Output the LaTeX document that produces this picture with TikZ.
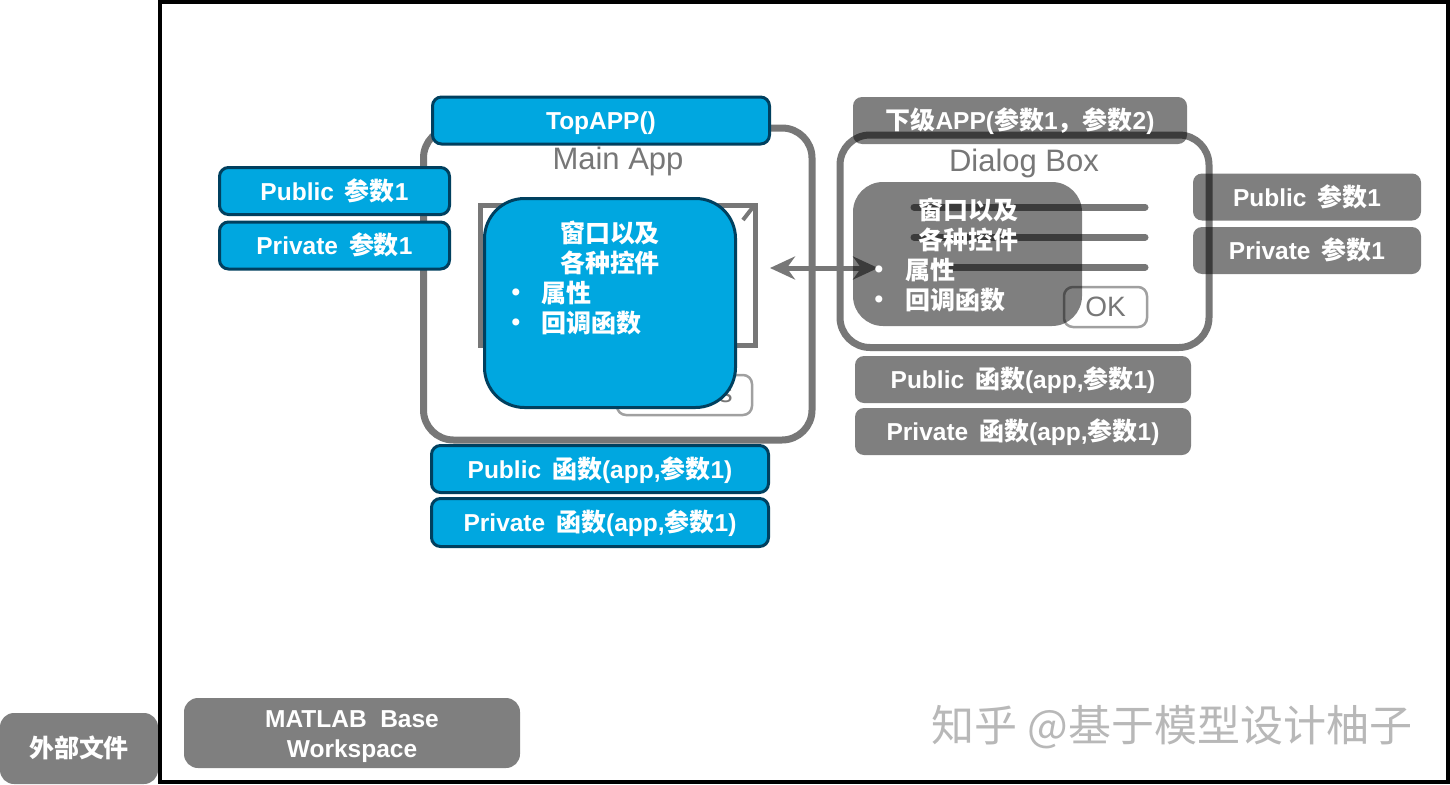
\documentclass[tikz,border=0pt]{standalone}
\usepackage{fontspec}
\setmainfont{Liberation Sans}
\newfontfamily\cjk[Scale=1.02]{Noto Sans CJK SC}
\newfontfamily\markfont{Noto Sans CJK SC}
\usetikzlibrary{arrows.meta}
\definecolor{appblue}{HTML}{00A7E0}
\definecolor{appedge}{HTML}{00405F}
\definecolor{sketch}{HTML}{777777}
\newcommand{\zh}[1]{{\cjk #1}}
\tikzset{
	x=1pt, y=-1pt,
	label24/.style={font=\fontsize{24.5}{30}\selectfont\bfseries, text=white, align=center},
	oneline/.style={text height=18pt, text depth=0pt},
	bluebox/.style={draw=appedge, line width=3pt, fill=appblue, rounded corners=9pt, inner sep=0pt, outer sep=0pt, label24},
	greybox/.style={fill=black, fill opacity=.5, text opacity=1, rounded corners=9pt, inner sep=0pt, outer sep=0pt, label24},
	frame/.style={draw=sketch, line width=7pt, rounded corners=30pt},
	rowline/.style={draw=sketch, line width=7pt, line cap=round},
	blurtext/.style={font=\fontsize{31}{36}\selectfont, text=sketch},
	btn/.style={draw=sketch!70, line width=2.5pt, rounded corners=9pt, inner sep=0pt, minimum height=40pt}
}
\begin{document}
\begin{tikzpicture}
	\useasboundingbox (0,0) rectangle (1450,784);
	\fill[white] (0,0) rectangle (1450,784);
	\draw[black, line width=4pt] (160,2) rectangle (1448,782);
	% sketches underneath
	\draw[frame] (423.5,128) rectangle (812,440);
	\draw[frame] (840,135) rectangle (1209,347.5);
	\node[blurtext] (mainname) at (618,161) {Main App};
	\node[blurtext] (dialogname) at (1024,163) {Dialog Box};
	\draw[sketch, line width=5pt] (480.5,205) rectangle (755.5,345);
	\draw[sketch, line width=4pt] (743,220) -- (753,207);
	\node[btn, minimum width=135pt, font=\fontsize{28}{30}\selectfont, text=sketch] (options) at (684.5,395) {Options};
	\node[btn, minimum width=83pt, font=\fontsize{28}{30}\selectfont, text=sketch] (okbtn) at (1105.5,307) {OK};
	\draw[rowline] (914,207) -- (1145,207);
	\draw[rowline] (914,237) -- (1145,237);
	\draw[rowline] (952,267) -- (1145,267);
	\coordinate (left) at (770,268);
	\coordinate (right) at (878,268);
	\draw[{Stealth[length=25pt,width=23pt]}-{Stealth[length=25pt,width=23pt]}, draw=sketch, line width=5pt] (left) -- (right);
	% main app
	\node[bluebox, oneline, minimum width=337pt, minimum height=47pt] (top) at (601,120.5) {TopAPP()};
	\node[bluebox, oneline, minimum width=230pt, minimum height=47pt] (pubvar) at (334.5,191) {Public\, \zh{参数}1};
	\node[bluebox, oneline, minimum width=230pt, minimum height=47pt] (privar) at (334.5,245.5) {Private\, \zh{参数}1};
	\node[bluebox, rounded corners=40pt, minimum width=251pt, minimum height=209pt] (window) at (610,303) {};
	\node[label24] (wintitle) at (610,248) {\zh{窗口以及}\\\zh{各种控件}};
	\node[label24] (b1) at (516,295) {\textbullet};
	\node[label24, anchor=west] (prop) at (538,293) {\zh{属性}};
	\node[label24] (b2) at (516,325) {\textbullet};
	\node[label24, anchor=west] (call) at (538,323) {\zh{回调函数}};
	\node[bluebox, oneline, minimum width=337pt, minimum height=47pt] (pubfun) at (600,469) {Public\, \zh{函数}(app,\zh{参数}1)};
	\node[bluebox, oneline, minimum width=337pt, minimum height=48pt] (prifun) at (600,522.5) {Private\, \zh{函数}(app,\zh{参数}1)};
	% dialog
	\node[greybox, oneline, minimum width=334pt, minimum height=47pt] (sub) at (1020,120.5) {\zh{下级}APP(\zh{参数}1\zh{，}\zh{参数}2)};
	\node[greybox, rounded corners=30pt, minimum width=229pt, minimum height=144pt] (subwindow) at (967.5,254) {};
	\node[label24] (subtitle) at (968,225) {\zh{窗口以及}\\\zh{各种控件}};
	\node[label24] (b3) at (879,272) {\textbullet};
	\node[label24, anchor=west] (subprop) at (902,270) {\zh{属性}};
	\node[label24] (b4) at (879,302) {\textbullet};
	\node[label24, anchor=west] (subcall) at (902,300) {\zh{回调函数}};
	\node[greybox, oneline, minimum width=228pt, minimum height=47pt] (subpub) at (1307,197) {Public\, \zh{参数}1};
	\node[greybox, oneline, minimum width=228pt, minimum height=47pt] (subpri) at (1307,250.5) {Private\, \zh{参数}1};
	\node[greybox, oneline, minimum width=336pt, minimum height=47pt] (subpubfun) at (1023,379.5) {Public\, \zh{函数}(app,\zh{参数}1)};
	\node[greybox, oneline, minimum width=336pt, minimum height=47pt] (subprifun) at (1023,431.5) {Private\, \zh{函数}(app,\zh{参数}1)};
	% bottom row
	\node[greybox, oneline, rounded corners=14pt, minimum width=158pt, minimum height=71pt] (files) at (79,748.5) {\zh{外部文件}};
	\node[greybox, rounded corners=14pt, minimum width=336pt, minimum height=70pt] (base) at (352,733) {};
	\node[label24] (basetext) at (352,737) {MATLAB\ \ Base\\Workspace};
	\node[font=\fontsize{43}{47}\selectfont\markfont, text=black!28] (mark) at (1172,727) {知乎 @基于模型设计柚子};
\end{tikzpicture}
\end{document}
